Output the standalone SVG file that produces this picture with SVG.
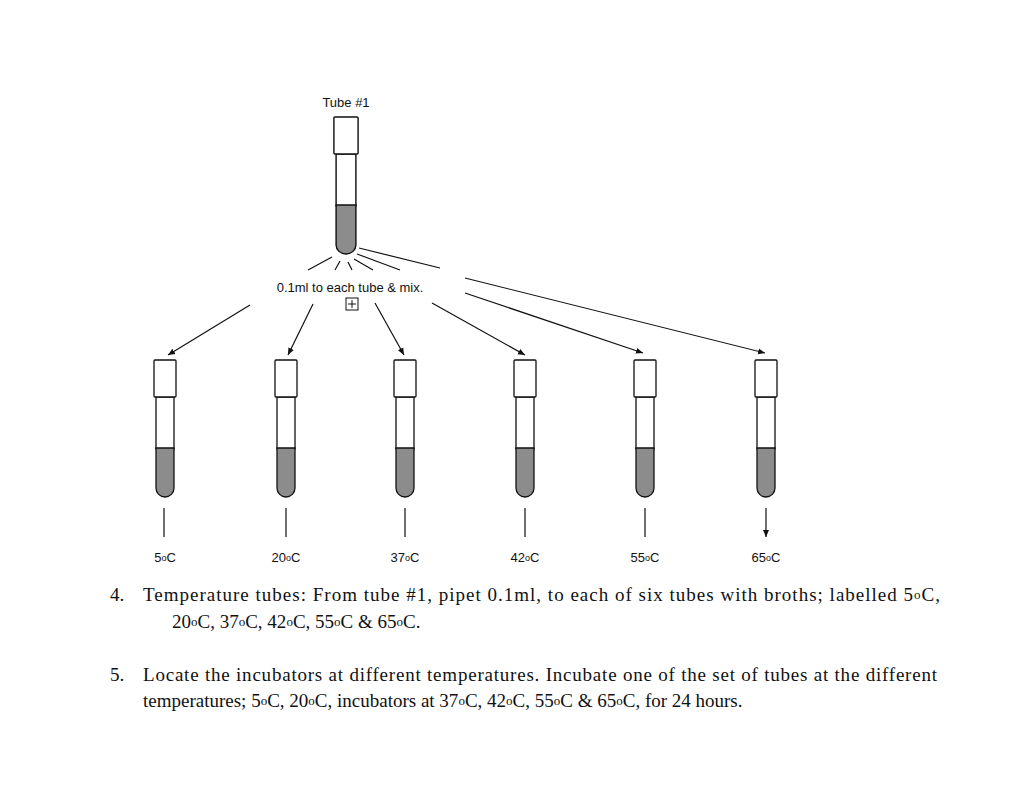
<svg xmlns="http://www.w3.org/2000/svg" width="1024" height="791" viewBox="0 0 1024 791">
<defs>
<style>
.s{font-family:"Liberation Sans",Arial,sans-serif;font-size:13px;fill:#111}
.b{font-family:"Liberation Serif","Times New Roman",serif;font-size:19px;fill:#111}
.ln{stroke:#111;stroke-width:1.2;fill:none}
.cap{fill:#fff;stroke:#111;stroke-width:1.3}
.liq{fill:#8c8c8c;stroke:#111;stroke-width:1.3}
</style>
<marker id="a" markerWidth="8" markerHeight="8" refX="7" refY="4" orient="auto" markerUnits="userSpaceOnUse"><path d="M0,1 L7,4 L0,7 z" fill="#111"/></marker>
<g id="tube"><rect class="cap" x="-9" y="37" width="18" height="52"/><path class="liq" d="M-9,88 V128 A9,9 0 0 0 9,128 V88 Z"/><rect class="cap" x="-11" y="0" width="22" height="37" rx="1"/></g>
</defs>
<rect width="1024" height="791" fill="#fff"/>
<g id="tube1"><text class="s" x="346" y="107" text-anchor="middle">Tube #1</text><use href="#tube" transform="translate(346,117) scale(1.1,1)"/></g>
<g id="t5"><use href="#tube" x="165" y="360"/><text class="s" x="165" y="562" text-anchor="middle">5<tspan font-size="9" dy="-1">o</tspan><tspan dy="1">C</tspan></text></g>
<g id="t20"><use href="#tube" x="286" y="360"/><text class="s" x="286" y="562" text-anchor="middle">20<tspan font-size="9" dy="-1">o</tspan><tspan dy="1">C</tspan></text></g>
<g id="t37"><use href="#tube" x="405" y="360"/><text class="s" x="405" y="562" text-anchor="middle">37<tspan font-size="9" dy="-1">o</tspan><tspan dy="1">C</tspan></text></g>
<g id="t42"><use href="#tube" x="525" y="360"/><text class="s" x="525" y="562" text-anchor="middle">42<tspan font-size="9" dy="-1">o</tspan><tspan dy="1">C</tspan></text></g>
<g id="t55"><use href="#tube" x="645" y="360"/><text class="s" x="645" y="562" text-anchor="middle">55<tspan font-size="9" dy="-1">o</tspan><tspan dy="1">C</tspan></text></g>
<g id="t65"><use href="#tube" x="766" y="360"/><text class="s" x="766" y="562" text-anchor="middle">65<tspan font-size="9" dy="-1">o</tspan><tspan dy="1">C</tspan></text></g>
<g id="label"><text class="s" x="350" y="292" text-anchor="middle">0.1ml to each tube &amp; mix.</text><rect x="346" y="298" width="12" height="12" fill="#fff" stroke="#111" stroke-width="1"/><path d="M352,300 V308 M348,304 H356" stroke="#111" stroke-width="1"/></g>
<g id="connectors">
<path class="ln" d="M332,257 L308,270 M340,261 L335,270 M348,262 L352,270 M354,259 L373,270 M357,254 L400,270 M359,248 L440,268"/>
<path class="ln" marker-end="url(#a)" d="M250,305 L168,355"/>
<path class="ln" marker-end="url(#a)" d="M313,304 L288,355"/>
<path class="ln" marker-end="url(#a)" d="M375,303 L404,355"/>
<path class="ln" marker-end="url(#a)" d="M432,303 L525,355"/>
<path class="ln" marker-end="url(#a)" d="M465,293 L643,353"/>
<path class="ln" marker-end="url(#a)" d="M465,278 L765,353"/>
<path class="ln" marker-end="url(#a)" d="M164,508 V537 M286,508 V537 M405,508 V537 M525,508 V537 M645,508 V537 M766,508 V537"/>
</g>
<g id="text">
<text class="b" x="110" y="601">4.</text>
<text class="b" x="143" y="601" textLength="797" lengthAdjust="spacing">Temperature tubes: From tube #1, pipet 0.1ml, to each of six tubes with broths; labelled 5<tspan font-size="13" dy="-2">o</tspan><tspan dy="2">C,</tspan></text>
<text class="b" x="172" y="628">20<tspan font-size="13" dy="-2">o</tspan><tspan dy="2">C, 37</tspan><tspan font-size="13" dy="-2">o</tspan><tspan dy="2">C, 42</tspan><tspan font-size="13" dy="-2">o</tspan><tspan dy="2">C, 55</tspan><tspan font-size="13" dy="-2">o</tspan><tspan dy="2">C &amp; 65</tspan><tspan font-size="13" dy="-2">o</tspan><tspan dy="2">C.</tspan></text>
<text class="b" x="110" y="681">5.</text>
<text class="b" x="143" y="681" textLength="794" lengthAdjust="spacing">Locate the incubators at different temperatures. Incubate one of the set of tubes at the different</text>
<text class="b" x="143" y="707">temperatures; 5<tspan font-size="13" dy="-2">o</tspan><tspan dy="2">C, 20</tspan><tspan font-size="13" dy="-2">o</tspan><tspan dy="2">C, incubators at 37</tspan><tspan font-size="13" dy="-2">o</tspan><tspan dy="2">C, 42</tspan><tspan font-size="13" dy="-2">o</tspan><tspan dy="2">C, 55</tspan><tspan font-size="13" dy="-2">o</tspan><tspan dy="2">C &amp; 65</tspan><tspan font-size="13" dy="-2">o</tspan><tspan dy="2">C, for 24 hours.</tspan></text>
</g>
</svg>
